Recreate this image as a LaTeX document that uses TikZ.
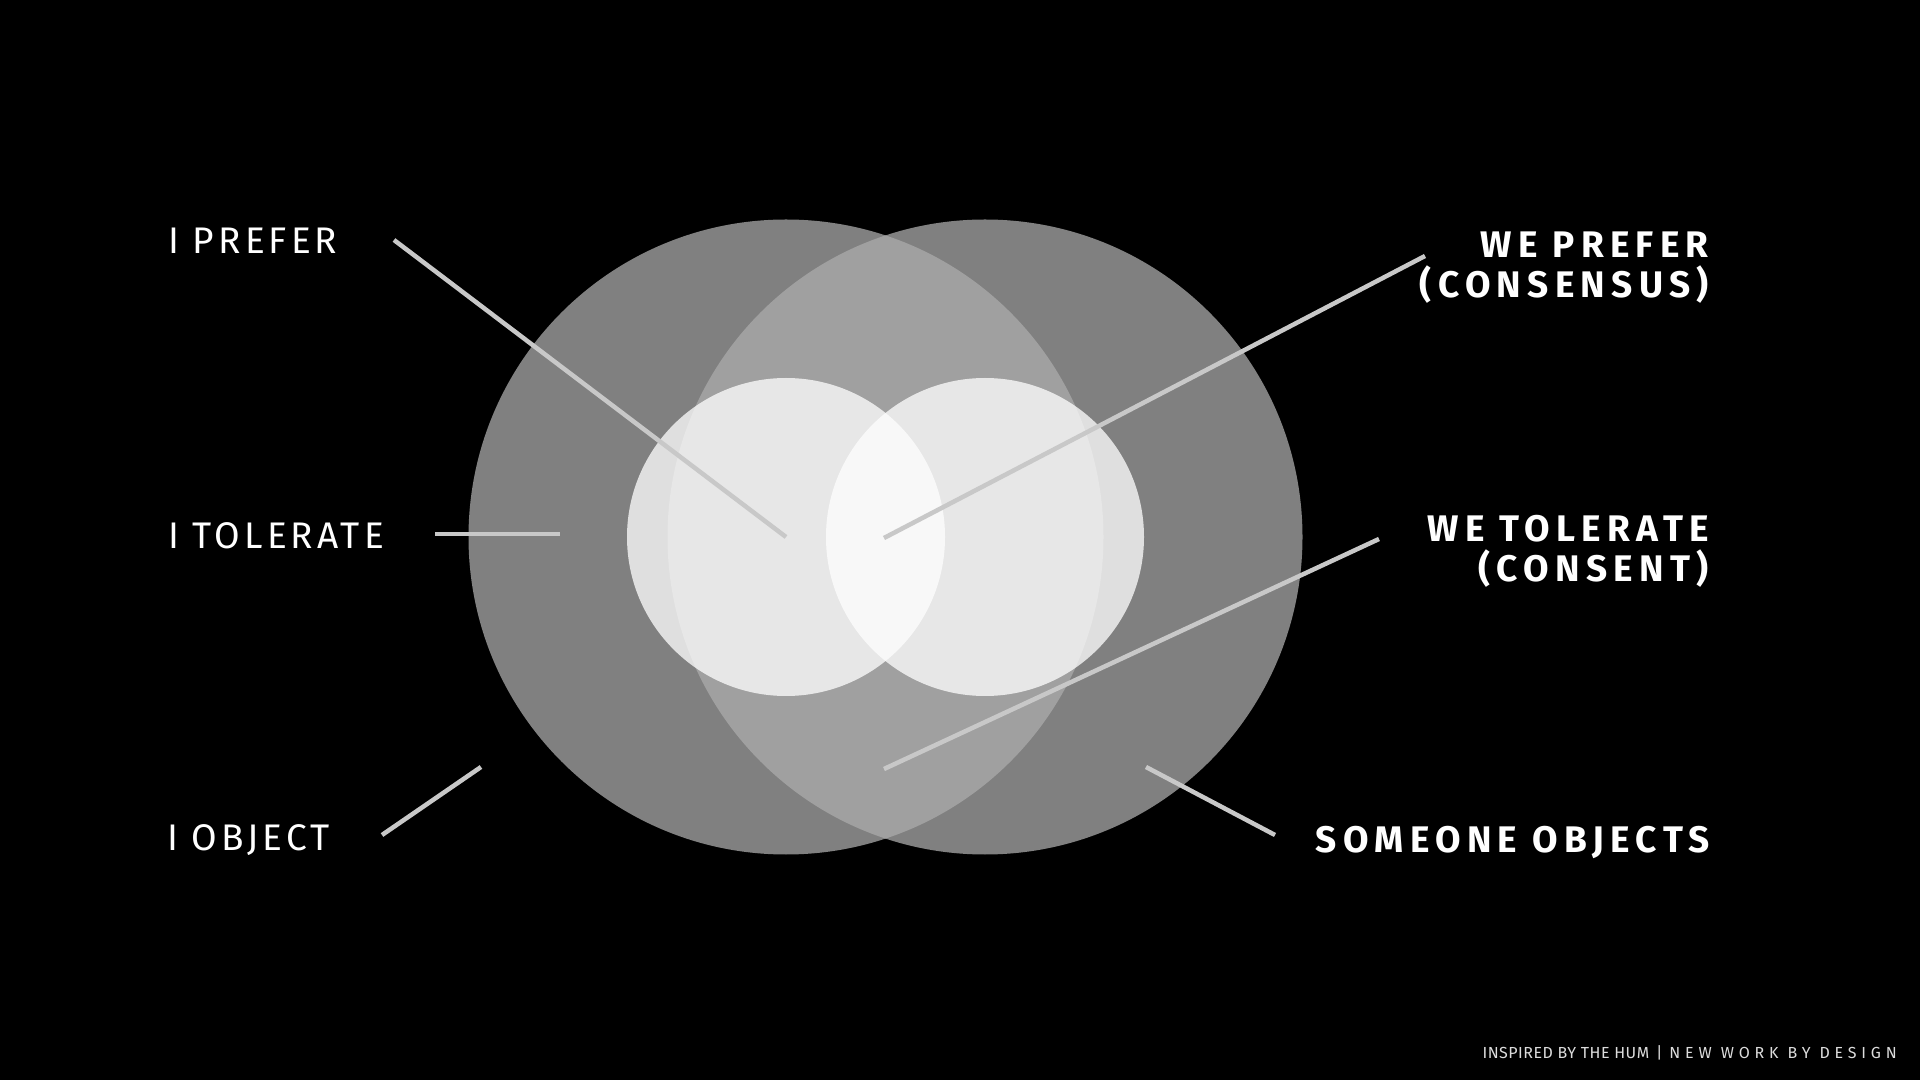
\documentclass[tikz,border=0pt]{standalone}
\usepackage{fontspec}
\setmainfont{Fira Sans}
\newfontfamily\ifont{Fira Sans}[LetterSpace=11]
\newfontfamily\wefont{Fira Sans}[LetterSpace=17]
\newfontfamily\creditfont{Fira Sans}[LetterSpace=3]
\newfontfamily\spacedfont{Fira Sans}[LetterSpace=30]
\usepackage{tikz}
\definecolor{bigfill}{RGB}{171,171,171}
\definecolor{leadgray}{RGB}{200,200,200}
\definecolor{footgray}{RGB}{220,220,220}
\tikzset{
  bigcirc/.style={circle, fill=bigfill, fill opacity=0.75, minimum size=635pt, inner sep=0pt},
  smallcirc/.style={circle, fill=white, fill opacity=0.75, minimum size=318pt, inner sep=0pt},
  leader/.style={draw=leadgray, line width=4.5pt},
  ilabel/.style={text=white, font=\ifont\fontsize{37}{44}\selectfont, inner sep=0pt},
  welabel/.style={text=white, font=\wefont\bfseries\fontsize{37}{40}\selectfont, inner sep=0pt, align=right},
}

\begin{document}
\begin{tikzpicture}[x=1pt, y=1pt]
\fill[black] (0,0) rectangle (1920,1080);
\useasboundingbox (0,0) rectangle (1920,1080);
\node (bigL) at (786,543) [bigcirc] {};
\node (bigR) at (985,543) [bigcirc] {};
\node (smallL) at (786,543) [smallcirc] {};
\node (smallR) at (985,543) [smallcirc] {};

\node (ipref) at (168,826) [ilabel, anchor=base west] {I PREFER};
\node (itol) at (168,531) [ilabel, anchor=base west] {I TOLERATE};
\node (iobj) at (167,230) [ilabel, anchor=base west] {I OBJECT};
\node (wepref) at (1709,782) [welabel, anchor=base east] {WE PREFER\\(CONSENSUS)};
\node (wetol) at (1709,498) [welabel, anchor=base east] {WE TOLERATE\\(CONSENT)};
\node (someobj) at (1710,228) [welabel, anchor=base east] {SOMEONE OBJECTS};

\coordinate (prefA) at (394,840);
\coordinate (tolA) at (435,546);
\coordinate (tolB) at (560,546);
\coordinate (objA) at (382,245);
\coordinate (objB) at (481,313);
\coordinate (wepA) at (884,542);
\coordinate (wepB) at (1425,824);
\coordinate (wetA) at (884,311);
\coordinate (wetB) at (1379,541);
\coordinate (someA) at (1146,313);
\coordinate (someB) at (1275,245);
\path (prefA) edge[leader] (smallL.center);
\path (tolA) edge[leader] (tolB);
\path (objA) edge[leader] (objB);
\path (wepA) edge[leader] (wepB);
\path (wetA) edge[leader] (wetB);
\path (someA) edge[leader] (someB);

\node (foot) at (1897,22) [anchor=base east, inner sep=0pt, text=footgray, font=\fontsize{16}{19}\selectfont] {{\creditfont INSPIRED BY THE HUM} \,|\, {\spacedfont NEW WORK BY DESIGN}};
\end{tikzpicture}
\end{document}
